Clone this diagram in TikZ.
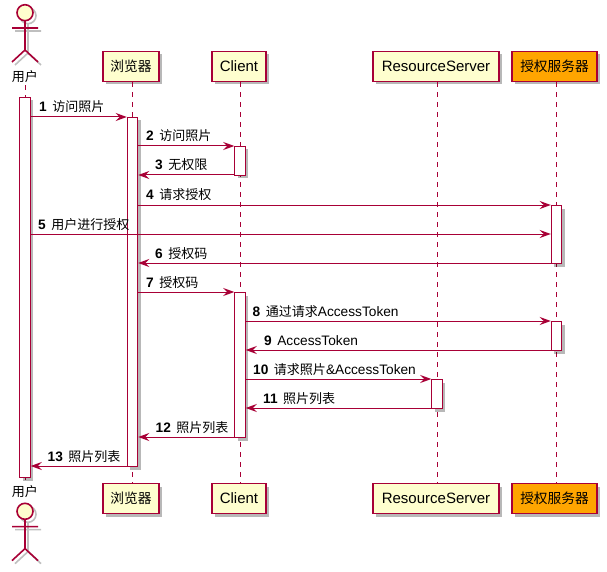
\documentclass[tikz,border=0pt]{standalone}
\usepackage{fontspec}
\setmainfont{Liberation Sans}
\newfontfamily\cjk{Noto Sans CJK SC}[Scale=0.95]
\newfontfamily\cjkp{Noto Sans CJK SC}[Scale=0.913]
\usetikzlibrary{arrows.meta,shadows}
\definecolor{pu}{HTML}{A80036}
\definecolor{pufill}{HTML}{FEFECE}
\definecolor{puorange}{HTML}{FFA500}
\newcommand\zh[1]{{\cjk #1}}
\newcommand\zhp[1]{{\cjkp #1}}
\newcommand\mnum[1]{\textbf{#1}\hspace{5.5pt}}
\begin{document}
\begin{tikzpicture}[x=1pt,y=-1pt,
  shad/.style={drop shadow={shadow xshift=3pt,shadow yshift=-3pt,fill=black,opacity=0.28}},
  part/.style={draw=pu,line width=1.1pt,fill=pufill,minimum height=30pt,inner xsep=6pt,inner ysep=0pt,
    font=\fontsize{15}{17}\selectfont,shad},
  actlbl/.style={inner sep=0pt,font=\fontsize{13.7}{16}\selectfont},
  actline/.style={draw=pu,line width=1.6pt},
  life/.style={draw=pu,line width=0.9pt,dash pattern=on 5pt off 5pt},
  bar/.style={draw=pu,line width=1pt,fill=white,minimum width=10.5pt,inner sep=0pt,anchor=north,shad},
  msg/.style={draw=pu,line width=1pt,-{Stealth[length=11pt,width=8pt,inset=4pt]}},
  lbl/.style={inner sep=0pt,anchor=base west,font=\fontsize{13.7}{15}\selectfont},
]
\useasboundingbox (0,0) rectangle (607,572);
% participants top
\node[actlbl] (uT) at (25,77) {\zh{用户}};
\node[part,minimum width=56pt] (bT) at (131,66.5) {\zhp{浏览器}};
\node[part,minimum width=54pt] (cT) at (239,66.5) {Client};
\node[part,minimum width=126pt] (rT) at (436,66.5) {ResourceServer};
\node[part,minimum width=85pt,fill=puorange] (aT) at (554.5,66.5) {\zhp{授权服务器}};
% participants bottom
\node[actlbl] (uB) at (25,491.5) {\zh{用户}};
\node[part,minimum width=56pt] (bB) at (131,498.5) {\zhp{浏览器}};
\node[part,minimum width=54pt] (cB) at (239,498.5) {Client};
\node[part,minimum width=126pt] (rB) at (436,498.5) {ResourceServer};
\node[part,minimum width=85pt,fill=puorange] (aB) at (554.5,498.5) {\zhp{授权服务器}};
% actors
\foreach \y in {12.7,511.3}{
  \begin{scope}[shift={(3,3)}]
    \draw[black!25,line width=1.6pt] (25,\y) circle (8pt);
    \draw[black!25,line width=1.6pt] (25,\y+8) -- (25,\y+37.3) (12,\y+15.3) -- (38,\y+15.3)
      (12,\y+49.3) -- (25,\y+37.3) -- (38,\y+49.3);
  \end{scope}
  \draw[actline,fill=pufill] (25,\y) circle (8pt);
  \draw[actline] (25,\y+8) -- (25,\y+37.3) (12,\y+15.3) -- (38,\y+15.3)
    (12,\y+49.3) -- (25,\y+37.3) -- (38,\y+49.3);
}
% lifelines
\draw[life] (uT.south) ++(0,2) -- (uB.north);
\draw[life] ([xshift=1.5pt]bT.south) -- ([xshift=1.5pt]bB.north);
\draw[life] ([xshift=1pt]cT.south) -- ([xshift=1pt]cB.north);
\draw[life] ([xshift=1pt]rT.south) -- ([xshift=1pt]rB.north);
\draw[life] ([xshift=2pt]aT.south) -- ([xshift=2pt]aB.north);
% activation bars
\node[bar,minimum height=380pt] (ub) at (25,97) {};
\node[bar,minimum height=349pt] (bb) at (132.5,117) {};
\node[bar,minimum height=29pt] (cb1) at (240,146) {};
\node[bar,minimum height=145pt] (cb2) at (240,292) {};
\node[bar,minimum height=58pt] (ab1) at (556.5,205) {};
\node[bar,minimum height=29pt] (ab2) at (556.5,321) {};
\node[bar,minimum height=29pt] (rb) at (437,379) {};
% messages
\draw[msg] (ub.east |- 0,117) -- (bb.west |- 0,117);
\node[lbl] (l1) at (39,112) {\mnum{1}\zh{访问照片}};
\draw[msg] (bb.east |- 0,146) -- (cb1.west |- 0,146);
\node[lbl] (l2) at (146,141) {\mnum{2}\zh{访问照片}};
\draw[msg] (cb1.west |- 0,175) -- (bb.east |- 0,175);
\node[lbl] (l3) at (155,170) {\mnum{3}\zh{无权限}};
\draw[msg] (bb.east |- 0,205) -- (ab1.west |- 0,205);
\node[lbl] (l4) at (146,200) {\mnum{4}\zh{请求授权}};
\draw[msg] (ub.east |- 0,234) -- (ab1.west |- 0,234);
\node[lbl] (l5) at (38,229) {\mnum{5}\zh{用户进行授权}};
\draw[msg] (ab1.west |- 0,263) -- (bb.east |- 0,263);
\node[lbl] (l6) at (155,258) {\mnum{6}\zh{授权码}};
\draw[msg] (bb.east |- 0,292) -- (cb2.west |- 0,292);
\node[lbl] (l7) at (146,287) {\mnum{7}\zh{授权码}};
\draw[msg] (cb2.east |- 0,321) -- (ab2.west |- 0,321);
\node[lbl] (l8) at (252.5,316) {\mnum{8}\zh{通过请求}AccessToken};
\draw[msg] (ab2.west |- 0,350) -- (cb2.east |- 0,350);
\node[lbl] (l9) at (264,345) {\mnum{9}AccessToken};
\draw[msg] (cb2.east |- 0,379) -- (rb.west |- 0,379);
\node[lbl] (l10) at (253,374) {\mnum{10}\zh{请求照片}\&AccessToken};
\draw[msg] (rb.west |- 0,408) -- (cb2.east |- 0,408);
\node[lbl] (l11) at (263,403) {\mnum{11}\zh{照片列表}};
\draw[msg] (cb2.west |- 0,437) -- (bb.east |- 0,437);
\node[lbl] (l12) at (155.5,432) {\mnum{12}\zh{照片列表}};
\draw[msg] (bb.west |- 0,466) -- (ub.east |- 0,466);
\node[lbl] (l13) at (47.5,461) {\mnum{13}\zh{照片列表}};
\end{tikzpicture}
\end{document}
